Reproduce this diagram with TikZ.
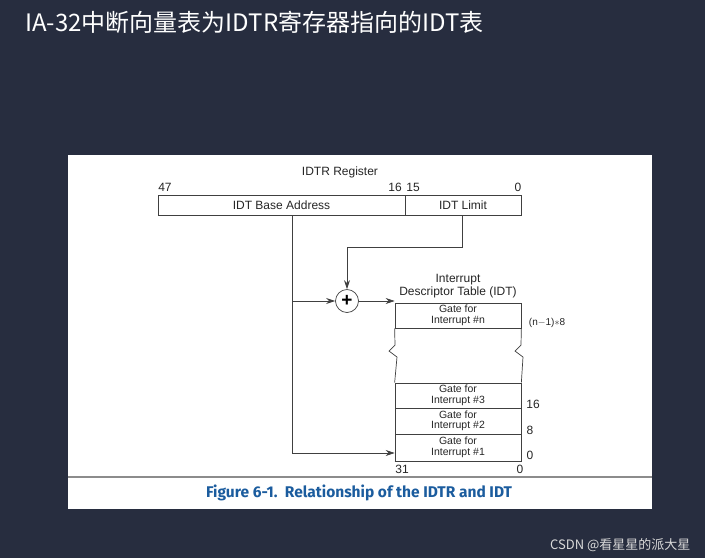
\documentclass[tikz,border=0pt]{standalone}
\usepackage{fontspec}
\setmainfont{Liberation Sans}
\newfontfamily\cjk{Noto Sans CJK SC}
\newfontfamily\capf{Fira Sans}
\usetikzlibrary{arrows.meta}
\definecolor{bgc}{HTML}{272D3F}
\definecolor{capc}{HTML}{1B5C9E}
\begin{document}
\begin{tikzpicture}[x=1pt,y=-1pt,
  lbl/.style={font=\fontsize{12}{12.5}\selectfont,inner sep=0pt,text=black!85},
  gate/.style={ln,draw,minimum width=126pt,inner sep=0pt,align=center,text=black!85,font=\fontsize{10.5}{10.5}\selectfont},
  ln/.style={draw=black!75,line width=0.7pt},
  arr/.style={ln,-{Stealth[length=9pt,width=6pt]}}]
\fill[bgc] (0,0) rectangle (705,558);
\useasboundingbox (0,0) rectangle (705,558);
\fill[white] (68,155) rectangle (652,509);
\node[anchor=west,text=white,inner sep=0pt] (title) at (25,22) {\cjk\fontsize{24}{26}\selectfont IA-32中断向量表为IDTR寄存器指向的IDT表};
\node[lbl] (reglbl) at (340,172) {IDTR Register};
\node[lbl] (b47) at (165,187) {47};
\node[lbl] (b16) at (395,187) {16};
\node[lbl] (b15) at (413,187) {15};
\node[lbl] (b0) at (518,187) {0};
\node[ln,draw,minimum width=247pt,minimum height=20pt,inner sep=0pt,lbl] (base) at (281.5,205) {IDT Base Address};
\node[ln,draw,minimum width=116pt,minimum height=20pt,inner sep=0pt,lbl] (limit) at (463,205) {IDT Limit};
\node[ln,draw,circle,minimum size=23pt,inner sep=0pt,font=\bfseries\fontsize{19}{19}\selectfont] (plus) at (347,301) {+};
\node[lbl,align=center] (idtlbl) at (458,286) {Interrupt\\[1pt]Descriptor Table (IDT)};
% table
\node[gate,minimum height=25pt] (gn) at (458,315.5) {Gate for\\Interrupt \#n};
\node[gate,minimum height=25pt] (g3) at (458,395.5) {Gate for\\Interrupt \#3};
\node[gate,minimum height=26pt] (g2) at (458,421) {Gate for\\Interrupt \#2};
\node[gate,minimum height=27pt] (g1) at (458,447.5) {Gate for\\Interrupt \#1};
\draw[ln,line width=1.4pt] (g1.south west) -- (g1.south east);
\draw[ln] (gn.south west) -- (395,345) -- (389,351) -- (397,357) -- (g3.north west);
\draw[ln] (gn.south east) -- (521,345) -- (515,351) -- (523,357) -- (g3.north east);
\node[lbl,font=\fontsize{10}{10}\selectfont] (ln8) at (547,323) {(n$-$1)$*$8};
\node[lbl] (l16) at (533,404) {16};
\node[lbl] (l8) at (530,430) {8};
\node[lbl] (l0) at (530,455) {0};
\node[lbl] (t31) at (402,469) {31};
\node[lbl] (t0) at (520,469) {0};
% connectors
\coordinate (bd) at (292,215);
\draw[arr] (bd) -- (292,453) -- (g1.west |- 0,453);
\draw[arr] (292,301) -- (plus.west);
\draw[arr] (plus.east) -- (gn.south west |- 0,301);
\draw[arr] (limit.south -| 462,0) -- (462,247) -- (347,247) -- (plus.north);
% caption
\draw[black!45,line width=1.2pt] (68,477) -- (652,477);
\node[text=capc,font=\capf\bfseries\fontsize{15.5}{16}\selectfont] (cap) at (359,493) {Figure 6-1.\ \ Relationship of the IDTR and IDT};
\node[text=white!85!black,font=\cjk\fontsize{13}{14}\selectfont,anchor=east] (wm) at (694,545) {CSDN @看星星的派大星};
\end{tikzpicture}
\end{document}
